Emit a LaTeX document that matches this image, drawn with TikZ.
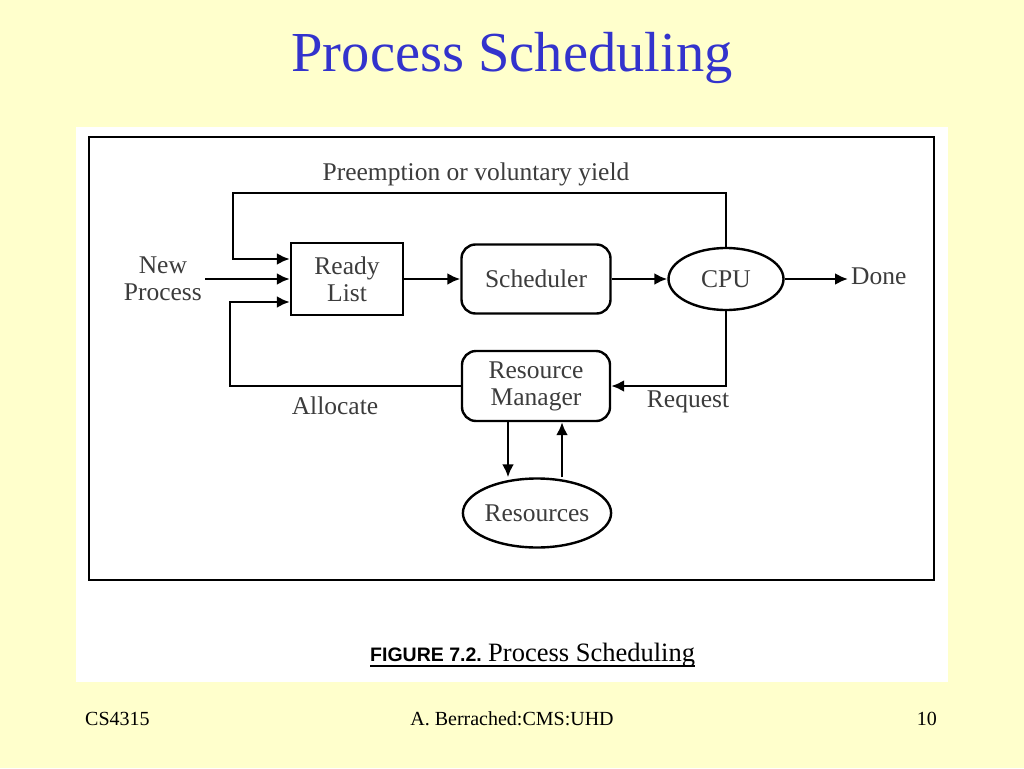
\documentclass[tikz,border=0pt]{standalone}
\usepackage{fontspec}
\usepackage{tikz}
\usetikzlibrary{shapes.geometric,arrows.meta}
\setmainfont{Liberation Serif}
\newfontfamily\capsans{Liberation Sans}
\definecolor{slidebg}{RGB}{255,255,204}
\definecolor{titleblue}{RGB}{51,51,204}
\definecolor{figtext}{RGB}{60,60,60}
\newcommand{\figfont}{\fontsize{25.5}{27}\selectfont}

\begin{document}
\begin{tikzpicture}[x=1pt,y=-1pt,
        box/.style={draw,line width=2.4pt,inner sep=0pt,align=center,font=\figfont,text=figtext},
        roundbox/.style={box,rounded corners=14pt},
        oval/.style={box,ellipse},
        lbl/.style={font=\figfont,align=center,text=figtext,inner sep=3pt},
        link/.style={line width=2.6pt,-{Latex[length=13pt,width=12pt]}},
        foot/.style={font=\fontsize{20}{22}\selectfont,inner sep=0pt,anchor=base}]
    \useasboundingbox (0,0) rectangle (1024,768);
    \fill[slidebg] (0,0) rectangle (1024,768);
    \node[font=\fontsize{56.5}{60}\selectfont,text=titleblue] (title) at (512,58) {Process Scheduling};
    \fill[white] (76,127) rectangle (948,682);
    \draw[line width=2.4pt] (89,137) rectangle (934,580);

    \node[box,minimum width=112pt,minimum height=72pt] (ready) at (347,279) {Ready\\List};
    \node[roundbox,minimum width=149pt,minimum height=69pt] (sched) at (536,279) {Scheduler};
    \node[oval,minimum width=115pt,minimum height=62pt] (cpu) at (726,279) {CPU};
    \node[roundbox,minimum width=148pt,minimum height=70pt] (rm) at (536,386) {Resource\\Manager};
    \node[oval,minimum width=134pt,minimum height=69pt] (res) at (537,513) {Resources};

    \node[lbl,anchor=east] (newp) at (205,279) {New\\Process};
    \node[lbl,anchor=west] (done) at (848,276) {Done};
    \node[lbl] (pre) at (476,174) {Preemption or voluntary yield};
    \node[lbl] (alloc) at (335,406) {Allocate};
    \node[lbl] (req) at (688,402) {Request};

    \coordinate (tl) at (233,193);
    \coordinate (bl) at (230,386);
    \coordinate (dn) at ([xshift=-28pt]rm.south);
    \coordinate (up) at ([xshift=26pt]rm.south);

    \draw[link] (newp.east) -- (ready.west);
    \draw[link] (ready) -- (sched);
    \draw[link] (sched) -- (cpu);
    \draw[link] (cpu.east) -- (cpu.east -| done.west);
    \draw[link] (cpu.north) |- (tl) |- ([yshift=20pt]ready.west);
    \draw[link] (rm.west) -- (bl) |- ([yshift=-23pt]ready.west);
    \draw[link] (cpu.south) |- (rm.east);
    \draw[link] (dn) -- (dn |- res.north);
    \draw[link] (up |- res.north) -- (up);

    \node[anchor=base west,inner sep=0pt,font=\capsans\bfseries\fontsize{19.5}{20}\selectfont] (figno) at (370,661) {FIGURE 7.2.};
    \node[anchor=base west,inner sep=0pt,font=\fontsize{26.5}{28}\selectfont] (figcap) at (488,661) {Process Scheduling};
    \draw[line width=2pt] ([yshift=-5pt]figno.base west) -- ([yshift=-5pt]figcap.base east);

    \node[foot,anchor=base west] (course) at (85,725) {CS4315};
    \node[foot] (author) at (512,725) {A. Berrached:CMS:UHD};
    \node[foot,anchor=base east] (page) at (937,725) {10};
\end{tikzpicture}
\end{document}
